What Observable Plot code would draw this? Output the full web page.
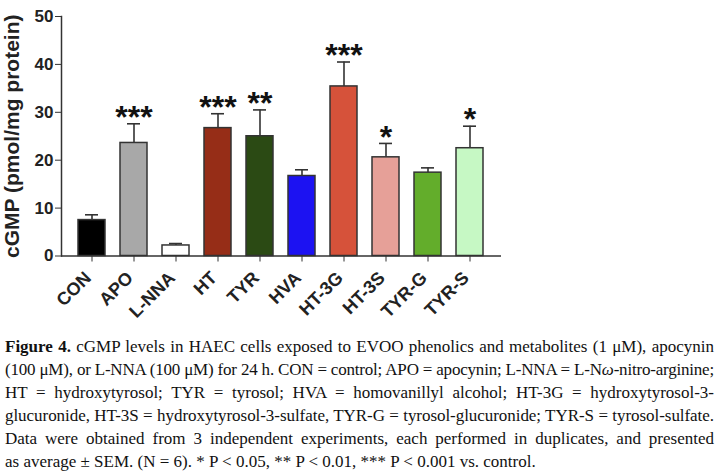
<!DOCTYPE html>
<html>
<head>
<meta charset="utf-8">
<script src="https://cdn.jsdelivr.net/npm/d3@7"></script>
<script src="https://cdn.jsdelivr.net/npm/@observablehq/plot@0.6"></script>
<style>
  html, body { margin: 0; padding: 0; background: #fff; overflow: hidden; }
  #chart svg { display: block; font-family: "Liberation Sans", Arial, sans-serif; }
  #caption {
    margin: 5px 6px 0 5px;
    font-family: "Liberation Serif", "DejaVu Serif", serif;
    font-size: 17px;
    line-height: 23px;
    color: #111;
  }
  #caption .ln { text-align: justify; text-align-last: justify; white-space: nowrap; overflow: visible; }
  #caption .ln.last { text-align-last: left; }
</style>
</head>
<body>
<div id="chart"></div>
<div id="caption">
  <div class="ln"><b>Figure 4.</b> cGMP levels in HAEC cells exposed to EVOO phenolics and metabolites (1 μM), apocynin</div>
  <div class="ln">(100 μM), or L-NNA (100 μM) for 24 h. CON = control; APO = apocynin; L-NNA = L-N<i>ω</i>-nitro-arginine;</div>
  <div class="ln">HT = hydroxytyrosol; TYR = tyrosol; HVA = homovanillyl alcohol; HT-3G = hydroxytyrosol-3-</div>
  <div class="ln">glucuronide, HT-3S = hydroxytyrosol-3-sulfate, TYR-G = tyrosol-glucuronide; TYR-S = tyrosol-sulfate.</div>
  <div class="ln">Data were obtained from 3 independent experiments, each performed in duplicates, and presented</div>
  <div class="ln last">as average ± SEM. (N = 6). * P &lt; 0.05, ** P &lt; 0.01, *** P &lt; 0.001 vs. control.</div>
</div>
<script>
const categories = ["CON", "APO", "L-NNA", "HT", "TYR", "HVA", "HT-3G", "HT-3S", "TYR-G", "TYR-S"];
const means      = [7.5, 23.6, 2.2, 26.7, 25.0, 16.7, 35.4, 20.6, 17.4, 22.5];
const sems       = [1.1, 4.0, 0.4, 3.0, 5.5, 1.3, 5.1, 2.9, 1.0, 4.6];
const stars      = ["", "***", "", "***", "**", "", "***", "*", "", "*"];
const colors     = ["#000000", "#a8a8a8", "#ffffff", "#962d17", "#2b4a14", "#1c12f2", "#d6523a", "#e6a098", "#63ad2b", "#c6f8c4"];
const yTicks     = [0, 10, 20, 30, 40, 50];

const data = categories.map((c, i) => ({
  cat: c, mean: means[i], top: means[i] + sems[i], star: stars[i], color: colors[i]
}));

const chart = Plot.plot({
  width: 720,
  height: 330,
  marginLeft: 61,
  marginRight: 219,
  marginTop: 16,
  marginBottom: 74.5,
  style: { fontFamily: "Liberation Sans, Arial, sans-serif", fontWeight: "bold", color: "#222" },
  x: { domain: categories, paddingInner: 0.36, paddingOuter: 0.18, insetLeft: 7, insetRight: 8 },
  y: { domain: [0, 50] },
  color: { type: "identity" },
  marks: [
    Plot.ruleX(data, { x: "cat", y1: "mean", y2: "top", stroke: "#333", strokeWidth: 1.6 }),
    Plot.tickY(data, { x: "cat", y: "top", stroke: "#333", strokeWidth: 1.6, insetLeft: 7, insetRight: 7 }),
    Plot.barY(data, { x: "cat", y: "mean", fill: "color", stroke: "#333", strokeWidth: 1.5 }),
    Plot.text(data, { x: "cat", y: "top", text: "star", fontSize: 32, fontWeight: "bold", fill: "#111", lineAnchor: "middle", dy: -6 }),
    Plot.ruleY([0], { stroke: "#333", strokeWidth: 1.5 }),
    Plot.frame({ anchor: "left", stroke: "#333", strokeWidth: 1.5 }),
    Plot.axisY({ ticks: yTicks, tickSize: 6, tickPadding: 2, fontSize: 17, fontWeight: "bold", label: null, stroke: "#333" }),
    Plot.axisY({ ticks: [], label: "cGMP (pmol/mg protein)", labelAnchor: "center", labelArrow: "none", labelOffset: 57, fontSize: 21, fontWeight: "bold" }),
    Plot.axisX({ tickSize: 6, tickFormat: () => "", label: null, stroke: "#333" }),
    Plot.axisX({ tickSize: 0, tickPadding: 16, tickRotate: -45, fontSize: 18, fontWeight: "bold", label: null, dx: -4, dy: 3 })
  ]
});
document.getElementById("chart").appendChild(chart);

// shrink letter spacing if a caption line is wider than its box
document.querySelectorAll("#caption .ln").forEach(el => {
  let ls = 0;
  while (el.scrollWidth > el.clientWidth + 0.5 && ls > -1) {
    ls -= 0.05;
    el.style.letterSpacing = ls + "px";
  }
});
</script>
</body>
</html>
